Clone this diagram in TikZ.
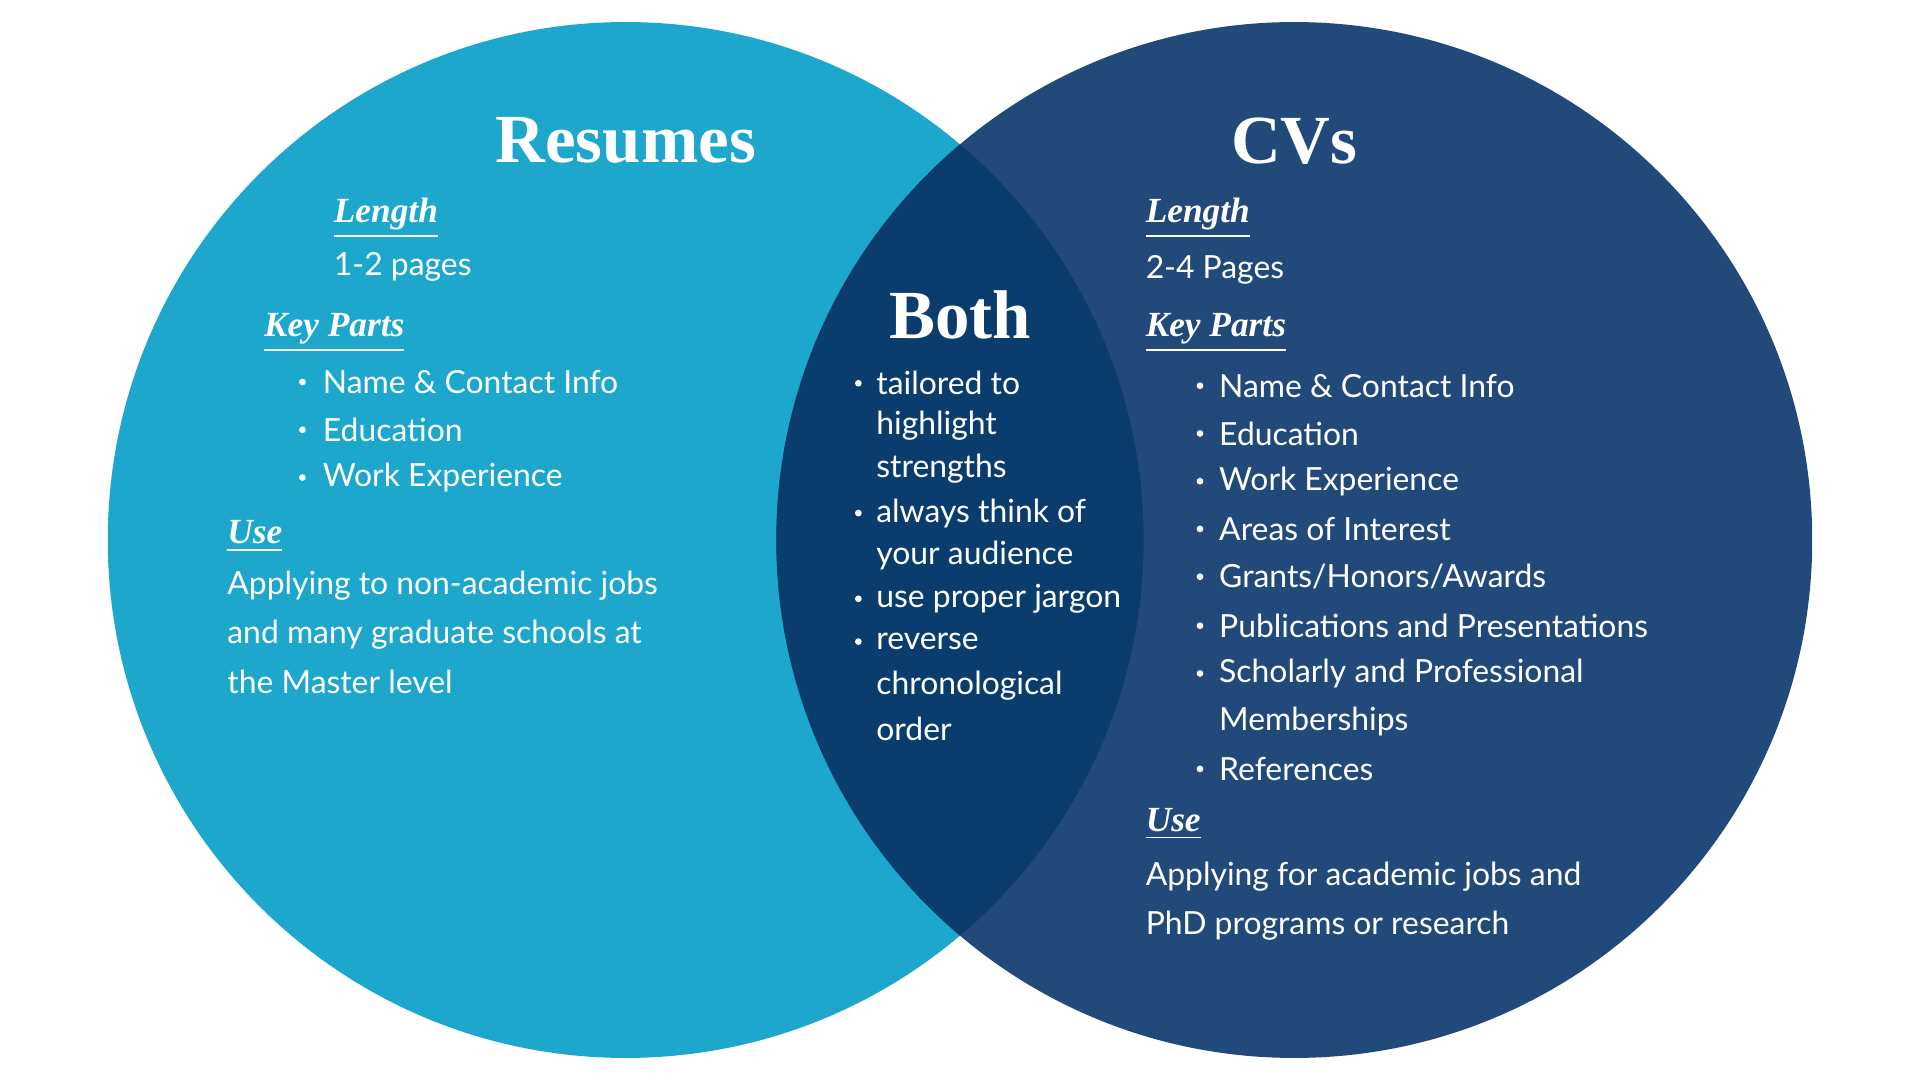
\documentclass[tikz,border=0pt]{standalone}
\usepackage{fontspec}
\setmainfont{Liberation Serif}
\newfontfamily\bodyf{Lato}
\definecolor{lblue}{HTML}{1DA7CC}
\definecolor{dblue}{HTML}{214A7A}
\definecolor{oblue}{HTML}{0A3D6E}
\begin{document}
\begin{tikzpicture}[x=0.01cm,y=0.01cm,
  txt/.style={anchor=west,text=white,inner sep=0,font=\bodyf\fontsize{7.4}{9}\selectfont},
  hd/.style={anchor=west,text=white,inner sep=0,font=\bfseries\itshape\fontsize{8.2}{10}\selectfont},
  ttl/.style={text=white,inner sep=0,font=\bfseries\fontsize{16}{19}\selectfont},
  bul/.style={circle,fill=white,inner sep=0,minimum size=0.055cm}]
\useasboundingbox (0,0) rectangle (1568,-882);
\fill[lblue] (511,-441) circle (423);
\fill[dblue] (1057,-441) circle (423);
\begin{scope}
\clip (511,-441) circle (423);
\fill[oblue] (1057,-441) circle (423);
\end{scope}
% Resumes
\node[ttl] (rt) at (511,-115) {Resumes};
\node[hd] (rh1) at (272,-178) {\underline{Length}};
\node[txt] (rl) at (272,-218) {1-2 pages};
\node[hd] (rh2) at (215,-272) {\underline{Key Parts}};
\foreach \t/\y [count=\i] in {{Name \& Contact Info}/312,{Education}/351,{Work Experience}/390}{
  \node[bul] (rb\i) at (247,-\y) {};
  \node[txt] (rk\i) at (263,-\y) {\t};}
\node[hd] (rh3) at (185,-438) {\underline{Use}};
\node[txt] (ru1) at (185,-478) {Applying to non-academic jobs};
\node[txt] (ru2) at (185,-518) {and many graduate schools at};
\node[txt] (ru3) at (185,-557) {the Master level};
% Both
\node[ttl] (bt) at (784,-257) {Both};
\foreach \t/\y [count=\i] in {{tailored to}/313,{highlight}/348,{strengths}/383,{always think of}/419,{your audience}/454,{use proper jargon}/489,{reverse}/524,{chronological}/560,{order}/595}{
  \node[txt] (bk\i) at (715,-\y) {\t};}
\foreach \y [count=\i] in {313,419,489,524}{\node[bul] (bb\i) at (701,-\y) {};}
% CVs
\node[ttl] (ct) at (1057,-115) {CVs};
\node[hd] (ch1) at (935,-178) {\underline{Length}};
\node[txt] (cl) at (935,-220) {2-4 Pages};
\node[hd] (ch2) at (935,-272) {\underline{Key Parts}};
\foreach \t/\y [count=\i] in {{Name \& Contact Info}/315,{Education}/354,{Work Experience}/393,{Areas of Interest}/432,{Grants/Honors/Awards}/471,{Publications and Presentations}/511,{Scholarly and Professional}/550,{Memberships}/589,{References}/628}{
  \node[txt] (ck\i) at (995,-\y) {\t};}
\foreach \y [count=\i] in {315,354,393,432,471,511,550,628}{\node[bul] (cb\i) at (980,-\y) {};}
\node[hd] (ch3) at (935,-673) {\underline{Use}};
\node[txt] (cu1) at (935,-716) {Applying for academic jobs and};
\node[txt] (cu2) at (935,-756) {PhD programs or research};
\end{tikzpicture}
\end{document}
